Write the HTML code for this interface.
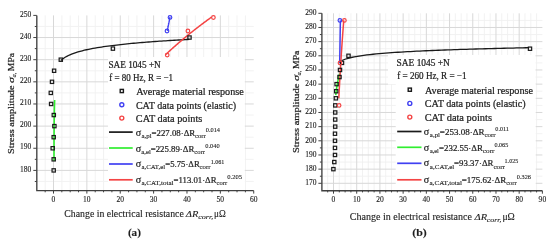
<!DOCTYPE html>
<html><head><meta charset="utf-8"><style>
html,body{margin:0;padding:0;background:#fff;width:550px;height:241px;overflow:hidden}
svg{display:block}
</style></head><body>
<svg width="550" height="241" viewBox="0 0 550 241" font-family="'Liberation Serif', serif" fill="#1e1e1e">
<style>text{stroke:#1e1e1e;stroke-width:0.22px}text.s{stroke-width:0.1px}text.t{stroke-width:0.12px}</style>
<rect width="550" height="241" fill="#fff"/>
<line x1="45.16" y1="15.4" x2="45.16" y2="190.6" stroke="#f0f0f0" stroke-width="0.9"/>
<line x1="61.84" y1="15.4" x2="61.84" y2="190.6" stroke="#f0f0f0" stroke-width="0.9"/>
<line x1="70.19" y1="15.4" x2="70.19" y2="190.6" stroke="#f0f0f0" stroke-width="0.9"/>
<line x1="78.53" y1="15.4" x2="78.53" y2="190.6" stroke="#f0f0f0" stroke-width="0.9"/>
<line x1="95.21" y1="15.4" x2="95.21" y2="190.6" stroke="#f0f0f0" stroke-width="0.9"/>
<line x1="103.56" y1="15.4" x2="103.56" y2="190.6" stroke="#f0f0f0" stroke-width="0.9"/>
<line x1="111.9" y1="15.4" x2="111.9" y2="190.6" stroke="#f0f0f0" stroke-width="0.9"/>
<line x1="128.58" y1="15.4" x2="128.58" y2="190.6" stroke="#f0f0f0" stroke-width="0.9"/>
<line x1="136.93" y1="15.4" x2="136.93" y2="190.6" stroke="#f0f0f0" stroke-width="0.9"/>
<line x1="145.27" y1="15.4" x2="145.27" y2="190.6" stroke="#f0f0f0" stroke-width="0.9"/>
<line x1="161.95" y1="15.4" x2="161.95" y2="190.6" stroke="#f0f0f0" stroke-width="0.9"/>
<line x1="170.3" y1="15.4" x2="170.3" y2="190.6" stroke="#f0f0f0" stroke-width="0.9"/>
<line x1="178.64" y1="15.4" x2="178.64" y2="190.6" stroke="#f0f0f0" stroke-width="0.9"/>
<line x1="195.32" y1="15.4" x2="195.32" y2="190.6" stroke="#f0f0f0" stroke-width="0.9"/>
<line x1="203.67" y1="15.4" x2="203.67" y2="190.6" stroke="#f0f0f0" stroke-width="0.9"/>
<line x1="212.01" y1="15.4" x2="212.01" y2="190.6" stroke="#f0f0f0" stroke-width="0.9"/>
<line x1="228.69" y1="15.4" x2="228.69" y2="190.6" stroke="#f0f0f0" stroke-width="0.9"/>
<line x1="237.03" y1="15.4" x2="237.03" y2="190.6" stroke="#f0f0f0" stroke-width="0.9"/>
<line x1="245.38" y1="15.4" x2="245.38" y2="190.6" stroke="#f0f0f0" stroke-width="0.9"/>
<line x1="36.81" y1="26.47" x2="253.72" y2="26.47" stroke="#f0f0f0" stroke-width="0.9"/>
<line x1="36.81" y1="48.61" x2="253.72" y2="48.61" stroke="#f0f0f0" stroke-width="0.9"/>
<line x1="36.81" y1="70.76" x2="253.72" y2="70.76" stroke="#f0f0f0" stroke-width="0.9"/>
<line x1="36.81" y1="92.9" x2="253.72" y2="92.9" stroke="#f0f0f0" stroke-width="0.9"/>
<line x1="36.81" y1="115.04" x2="253.72" y2="115.04" stroke="#f0f0f0" stroke-width="0.9"/>
<line x1="36.81" y1="137.19" x2="253.72" y2="137.19" stroke="#f0f0f0" stroke-width="0.9"/>
<line x1="36.81" y1="159.33" x2="253.72" y2="159.33" stroke="#f0f0f0" stroke-width="0.9"/>
<line x1="36.81" y1="181.47" x2="253.72" y2="181.47" stroke="#f0f0f0" stroke-width="0.9"/>
<line x1="53.5" y1="15.4" x2="53.5" y2="190.6" stroke="#d8d8d8" stroke-width="1"/>
<line x1="86.87" y1="15.4" x2="86.87" y2="190.6" stroke="#d8d8d8" stroke-width="1"/>
<line x1="120.24" y1="15.4" x2="120.24" y2="190.6" stroke="#d8d8d8" stroke-width="1"/>
<line x1="153.61" y1="15.4" x2="153.61" y2="190.6" stroke="#d8d8d8" stroke-width="1"/>
<line x1="186.98" y1="15.4" x2="186.98" y2="190.6" stroke="#d8d8d8" stroke-width="1"/>
<line x1="220.35" y1="15.4" x2="220.35" y2="190.6" stroke="#d8d8d8" stroke-width="1"/>
<line x1="36.81" y1="37.54" x2="253.72" y2="37.54" stroke="#d8d8d8" stroke-width="1"/>
<line x1="36.81" y1="59.69" x2="253.72" y2="59.69" stroke="#d8d8d8" stroke-width="1"/>
<line x1="36.81" y1="81.83" x2="253.72" y2="81.83" stroke="#d8d8d8" stroke-width="1"/>
<line x1="36.81" y1="103.97" x2="253.72" y2="103.97" stroke="#d8d8d8" stroke-width="1"/>
<line x1="36.81" y1="126.12" x2="253.72" y2="126.12" stroke="#d8d8d8" stroke-width="1"/>
<line x1="36.81" y1="148.26" x2="253.72" y2="148.26" stroke="#d8d8d8" stroke-width="1"/>
<line x1="36.81" y1="170.4" x2="253.72" y2="170.4" stroke="#d8d8d8" stroke-width="1"/>
<line x1="327.7" y1="13.3" x2="327.7" y2="190.7" stroke="#f0f0f0" stroke-width="0.9"/>
<line x1="339.3" y1="13.3" x2="339.3" y2="190.7" stroke="#f0f0f0" stroke-width="0.9"/>
<line x1="345.11" y1="13.3" x2="345.11" y2="190.7" stroke="#f0f0f0" stroke-width="0.9"/>
<line x1="350.91" y1="13.3" x2="350.91" y2="190.7" stroke="#f0f0f0" stroke-width="0.9"/>
<line x1="362.51" y1="13.3" x2="362.51" y2="190.7" stroke="#f0f0f0" stroke-width="0.9"/>
<line x1="368.31" y1="13.3" x2="368.31" y2="190.7" stroke="#f0f0f0" stroke-width="0.9"/>
<line x1="374.12" y1="13.3" x2="374.12" y2="190.7" stroke="#f0f0f0" stroke-width="0.9"/>
<line x1="385.72" y1="13.3" x2="385.72" y2="190.7" stroke="#f0f0f0" stroke-width="0.9"/>
<line x1="391.52" y1="13.3" x2="391.52" y2="190.7" stroke="#f0f0f0" stroke-width="0.9"/>
<line x1="397.33" y1="13.3" x2="397.33" y2="190.7" stroke="#f0f0f0" stroke-width="0.9"/>
<line x1="408.93" y1="13.3" x2="408.93" y2="190.7" stroke="#f0f0f0" stroke-width="0.9"/>
<line x1="414.74" y1="13.3" x2="414.74" y2="190.7" stroke="#f0f0f0" stroke-width="0.9"/>
<line x1="420.54" y1="13.3" x2="420.54" y2="190.7" stroke="#f0f0f0" stroke-width="0.9"/>
<line x1="432.14" y1="13.3" x2="432.14" y2="190.7" stroke="#f0f0f0" stroke-width="0.9"/>
<line x1="437.94" y1="13.3" x2="437.94" y2="190.7" stroke="#f0f0f0" stroke-width="0.9"/>
<line x1="443.75" y1="13.3" x2="443.75" y2="190.7" stroke="#f0f0f0" stroke-width="0.9"/>
<line x1="455.35" y1="13.3" x2="455.35" y2="190.7" stroke="#f0f0f0" stroke-width="0.9"/>
<line x1="461.16" y1="13.3" x2="461.16" y2="190.7" stroke="#f0f0f0" stroke-width="0.9"/>
<line x1="466.96" y1="13.3" x2="466.96" y2="190.7" stroke="#f0f0f0" stroke-width="0.9"/>
<line x1="478.56" y1="13.3" x2="478.56" y2="190.7" stroke="#f0f0f0" stroke-width="0.9"/>
<line x1="484.37" y1="13.3" x2="484.37" y2="190.7" stroke="#f0f0f0" stroke-width="0.9"/>
<line x1="490.17" y1="13.3" x2="490.17" y2="190.7" stroke="#f0f0f0" stroke-width="0.9"/>
<line x1="501.77" y1="13.3" x2="501.77" y2="190.7" stroke="#f0f0f0" stroke-width="0.9"/>
<line x1="507.58" y1="13.3" x2="507.58" y2="190.7" stroke="#f0f0f0" stroke-width="0.9"/>
<line x1="513.38" y1="13.3" x2="513.38" y2="190.7" stroke="#f0f0f0" stroke-width="0.9"/>
<line x1="524.98" y1="13.3" x2="524.98" y2="190.7" stroke="#f0f0f0" stroke-width="0.9"/>
<line x1="530.79" y1="13.3" x2="530.79" y2="190.7" stroke="#f0f0f0" stroke-width="0.9"/>
<line x1="536.59" y1="13.3" x2="536.59" y2="190.7" stroke="#f0f0f0" stroke-width="0.9"/>
<line x1="321.89" y1="20.38" x2="542.39" y2="20.38" stroke="#f0f0f0" stroke-width="0.9"/>
<line x1="321.89" y1="34.55" x2="542.39" y2="34.55" stroke="#f0f0f0" stroke-width="0.9"/>
<line x1="321.89" y1="48.72" x2="542.39" y2="48.72" stroke="#f0f0f0" stroke-width="0.9"/>
<line x1="321.89" y1="62.88" x2="542.39" y2="62.88" stroke="#f0f0f0" stroke-width="0.9"/>
<line x1="321.89" y1="77.05" x2="542.39" y2="77.05" stroke="#f0f0f0" stroke-width="0.9"/>
<line x1="321.89" y1="91.22" x2="542.39" y2="91.22" stroke="#f0f0f0" stroke-width="0.9"/>
<line x1="321.89" y1="105.39" x2="542.39" y2="105.39" stroke="#f0f0f0" stroke-width="0.9"/>
<line x1="321.89" y1="119.55" x2="542.39" y2="119.55" stroke="#f0f0f0" stroke-width="0.9"/>
<line x1="321.89" y1="133.72" x2="542.39" y2="133.72" stroke="#f0f0f0" stroke-width="0.9"/>
<line x1="321.89" y1="147.89" x2="542.39" y2="147.89" stroke="#f0f0f0" stroke-width="0.9"/>
<line x1="321.89" y1="162.05" x2="542.39" y2="162.05" stroke="#f0f0f0" stroke-width="0.9"/>
<line x1="321.89" y1="176.22" x2="542.39" y2="176.22" stroke="#f0f0f0" stroke-width="0.9"/>
<line x1="333.5" y1="13.3" x2="333.5" y2="190.7" stroke="#d8d8d8" stroke-width="1"/>
<line x1="356.71" y1="13.3" x2="356.71" y2="190.7" stroke="#d8d8d8" stroke-width="1"/>
<line x1="379.92" y1="13.3" x2="379.92" y2="190.7" stroke="#d8d8d8" stroke-width="1"/>
<line x1="403.13" y1="13.3" x2="403.13" y2="190.7" stroke="#d8d8d8" stroke-width="1"/>
<line x1="426.34" y1="13.3" x2="426.34" y2="190.7" stroke="#d8d8d8" stroke-width="1"/>
<line x1="449.55" y1="13.3" x2="449.55" y2="190.7" stroke="#d8d8d8" stroke-width="1"/>
<line x1="472.76" y1="13.3" x2="472.76" y2="190.7" stroke="#d8d8d8" stroke-width="1"/>
<line x1="495.97" y1="13.3" x2="495.97" y2="190.7" stroke="#d8d8d8" stroke-width="1"/>
<line x1="519.18" y1="13.3" x2="519.18" y2="190.7" stroke="#d8d8d8" stroke-width="1"/>
<line x1="321.89" y1="27.47" x2="542.39" y2="27.47" stroke="#d8d8d8" stroke-width="1"/>
<line x1="321.89" y1="41.63" x2="542.39" y2="41.63" stroke="#d8d8d8" stroke-width="1"/>
<line x1="321.89" y1="55.8" x2="542.39" y2="55.8" stroke="#d8d8d8" stroke-width="1"/>
<line x1="321.89" y1="69.97" x2="542.39" y2="69.97" stroke="#d8d8d8" stroke-width="1"/>
<line x1="321.89" y1="84.14" x2="542.39" y2="84.14" stroke="#d8d8d8" stroke-width="1"/>
<line x1="321.89" y1="98.3" x2="542.39" y2="98.3" stroke="#d8d8d8" stroke-width="1"/>
<line x1="321.89" y1="112.47" x2="542.39" y2="112.47" stroke="#d8d8d8" stroke-width="1"/>
<line x1="321.89" y1="126.64" x2="542.39" y2="126.64" stroke="#d8d8d8" stroke-width="1"/>
<line x1="321.89" y1="140.8" x2="542.39" y2="140.8" stroke="#d8d8d8" stroke-width="1"/>
<line x1="321.89" y1="154.97" x2="542.39" y2="154.97" stroke="#d8d8d8" stroke-width="1"/>
<line x1="321.89" y1="169.14" x2="542.39" y2="169.14" stroke="#d8d8d8" stroke-width="1"/>
<line x1="321.89" y1="183.3" x2="542.39" y2="183.3" stroke="#d8d8d8" stroke-width="1"/>
<rect x="108" y="57" width="136.8" height="133" fill="#fff"/>
<rect x="388" y="55" width="147.5" height="29.5" fill="#fff"/>
<rect x="395.7" y="84" width="140" height="106.5" fill="#fff"/>
<polyline points="60.84,60.57 62.98,58.75 65.12,57.29 67.27,56.08 69.41,55.04 71.55,54.13 73.69,53.32 75.83,52.59 77.97,51.93 80.11,51.32 82.25,50.76 84.4,50.24 86.54,49.75 88.68,49.29 90.82,48.86 92.96,48.46 95.1,48.07 97.24,47.71 99.38,47.36 101.52,47.03 103.67,46.71 105.81,46.4 107.95,46.11 110.09,45.82 112.23,45.55 114.37,45.29 116.51,45.04 118.65,44.79 120.8,44.55 122.94,44.32 125.08,44.1 127.22,43.88 129.36,43.67 131.5,43.47 133.64,43.27 135.78,43.08 137.93,42.89 140.07,42.7 142.21,42.52 144.35,42.35 146.49,42.17 148.63,42.01 150.77,41.84 152.91,41.68 155.06,41.52 157.2,41.37 159.34,41.22 161.48,41.07 163.62,40.93 165.76,40.78 167.9,40.64 170.04,40.51 172.19,40.37 174.33,40.24 176.47,40.11 178.61,39.98 180.75,39.86 182.89,39.73 185.03,39.61 187.17,39.49 189.32,39.37" fill="none" stroke="#1a1a1a" stroke-width="1.3"/>
<polyline points="54.02,161.1 54.03,154.1 54.04,149.14 54.05,145.27 54.06,142.11 54.07,139.42 54.08,137.08 54.1,135.02 54.11,133.16 54.12,131.48 54.13,129.94 54.14,128.52 54.15,127.2 54.16,125.97 54.17,124.81 54.18,123.73 54.19,122.7 54.2,121.73 54.21,120.81 54.23,119.93 54.24,119.09 54.25,118.28 54.26,117.51 54.27,116.77 54.28,116.05 54.29,115.37 54.3,114.7 54.31,114.06 54.32,113.44 54.33,112.84 54.34,112.26 54.35,111.7 54.37,111.15 54.38,110.62 54.39,110.1 54.4,109.59 54.41,109.1 54.42,108.62 54.43,108.15 54.44,107.7 54.45,107.25 54.46,106.82 54.47,106.39 54.48,105.97 54.49,105.56 54.51,105.16 54.52,104.77 54.53,104.39 54.54,104.01 54.55,103.64 54.56,103.28 54.57,102.93 54.58,102.58 54.59,102.23 54.6,101.9 54.61,101.56 54.62,101.24 54.63,100.92 54.65,100.6 54.66,100.29 54.67,99.99" fill="none" stroke="#30ee30" stroke-width="1.6"/>
<polyline points="167.21,30.9 167.26,30.67 167.31,30.44 167.35,30.21 167.4,29.99 167.44,29.76 167.49,29.53 167.53,29.3 167.58,29.07 167.62,28.84 167.67,28.61 167.72,28.38 167.76,28.16 167.81,27.93 167.85,27.7 167.9,27.47 167.94,27.24 167.99,27.01 168.03,26.78 168.08,26.55 168.13,26.33 168.17,26.1 168.22,25.87 168.26,25.64 168.31,25.41 168.35,25.18 168.4,24.95 168.44,24.72 168.49,24.5 168.53,24.27 168.58,24.04 168.63,23.81 168.67,23.58 168.72,23.35 168.76,23.12 168.81,22.89 168.85,22.67 168.9,22.44 168.94,22.21 168.99,21.98 169.04,21.75 169.08,21.52 169.13,21.29 169.17,21.06 169.22,20.83 169.26,20.61 169.31,20.38 169.35,20.15 169.4,19.92 169.45,19.69 169.49,19.46 169.54,19.23 169.58,19 169.63,18.77 169.67,18.55 169.72,18.32 169.76,18.09 169.81,17.86 169.86,17.63 169.9,17.4 169.95,17.17" fill="none" stroke="#4040f2" stroke-width="1.5"/>
<polyline points="165.9,54.37 166.66,53.66 167.42,52.95 168.18,52.25 168.94,51.55 169.7,50.85 170.46,50.16 171.22,49.47 171.98,48.79 172.74,48.1 173.5,47.42 174.26,46.75 175.02,46.08 175.78,45.41 176.54,44.74 177.3,44.08 178.06,43.42 178.82,42.77 179.58,42.11 180.34,41.46 181.1,40.82 181.86,40.18 182.62,39.54 183.38,38.9 184.14,38.26 184.9,37.63 185.66,37 186.42,36.38 187.18,35.76 187.94,35.14 188.7,34.52 189.46,33.9 190.21,33.29 190.97,32.68 191.73,32.08 192.49,31.47 193.25,30.87 194.01,30.27 194.77,29.68 195.53,29.08 196.29,28.49 197.05,27.91 197.81,27.32 198.57,26.74 199.33,26.16 200.09,25.58 200.85,25 201.61,24.43 202.37,23.86 203.13,23.29 203.89,22.72 204.65,22.15 205.41,21.59 206.17,21.03 206.93,20.47 207.69,19.92 208.45,19.36 209.21,18.81 209.97,18.26 210.73,17.72 211.49,17.17" fill="none" stroke="#f44444" stroke-width="1.5"/>
<rect x="52.05" y="168.75" width="3.3" height="3.3" fill="none" stroke="#1a1a1a" stroke-width="1.2"/>
<rect x="52.05" y="157.68" width="3.3" height="3.3" fill="none" stroke="#1a1a1a" stroke-width="1.2"/>
<rect x="51.05" y="146.61" width="3.3" height="3.3" fill="none" stroke="#1a1a1a" stroke-width="1.2"/>
<rect x="52.05" y="135.54" width="3.3" height="3.3" fill="none" stroke="#1a1a1a" stroke-width="1.2"/>
<rect x="52.75" y="124.47" width="3.3" height="3.3" fill="none" stroke="#1a1a1a" stroke-width="1.2"/>
<rect x="52.15" y="113.39" width="3.3" height="3.3" fill="none" stroke="#1a1a1a" stroke-width="1.2"/>
<rect x="49.45" y="102.32" width="3.3" height="3.3" fill="none" stroke="#1a1a1a" stroke-width="1.2"/>
<rect x="49.15" y="91.25" width="3.3" height="3.3" fill="none" stroke="#1a1a1a" stroke-width="1.2"/>
<rect x="50.35" y="80.18" width="3.3" height="3.3" fill="none" stroke="#1a1a1a" stroke-width="1.2"/>
<rect x="52.45" y="69.11" width="3.3" height="3.3" fill="none" stroke="#1a1a1a" stroke-width="1.2"/>
<rect x="59.15" y="58.04" width="3.3" height="3.3" fill="none" stroke="#1a1a1a" stroke-width="1.2"/>
<rect x="111.25" y="46.96" width="3.3" height="3.3" fill="none" stroke="#1a1a1a" stroke-width="1.2"/>
<rect x="187.85" y="35.89" width="3.3" height="3.3" fill="none" stroke="#1a1a1a" stroke-width="1.2"/>
<circle cx="167" cy="31" r="1.8" fill="none" stroke="#4040f2" stroke-width="1.2"/>
<circle cx="170" cy="17.4" r="1.8" fill="none" stroke="#4040f2" stroke-width="1.2"/>
<circle cx="167.2" cy="55.1" r="1.8" fill="none" stroke="#f44444" stroke-width="1.2"/>
<circle cx="187.9" cy="31" r="1.8" fill="none" stroke="#f44444" stroke-width="1.2"/>
<circle cx="213.4" cy="17.5" r="1.8" fill="none" stroke="#f44444" stroke-width="1.2"/>
<polyline points="341.86,60.52 344.97,59.25 348.09,58.28 351.21,57.5 354.33,56.85 357.44,56.28 360.56,55.79 363.68,55.34 366.8,54.94 369.92,54.58 373.03,54.25 376.15,53.94 379.27,53.65 382.39,53.38 385.51,53.13 388.62,52.89 391.74,52.67 394.86,52.45 397.98,52.25 401.1,52.06 404.21,51.87 407.33,51.7 410.45,51.53 413.57,51.36 416.68,51.21 419.8,51.06 422.92,50.91 426.04,50.77 429.16,50.63 432.27,50.5 435.39,50.37 438.51,50.25 441.63,50.13 444.75,50.01 447.86,49.9 450.98,49.79 454.1,49.68 457.22,49.58 460.33,49.47 463.45,49.37 466.57,49.28 469.69,49.18 472.81,49.09 475.92,48.99 479.04,48.91 482.16,48.82 485.28,48.73 488.4,48.65 491.51,48.57 494.63,48.49 497.75,48.41 500.87,48.33 503.99,48.25 507.1,48.18 510.22,48.1 513.34,48.03 516.46,47.96 519.57,47.89 522.69,47.82 525.81,47.75 528.93,47.69" fill="none" stroke="#1a1a1a" stroke-width="1.3"/>
<polyline points="335.78,95.04 335.85,94.46 335.91,93.9 335.97,93.34 336.03,92.8 336.1,92.27 336.16,91.76 336.22,91.25 336.29,90.76 336.35,90.28 336.41,89.8 336.47,89.34 336.54,88.88 336.6,88.44 336.66,88 336.73,87.57 336.79,87.14 336.85,86.73 336.91,86.32 336.98,85.92 337.04,85.53 337.1,85.14 337.17,84.76 337.23,84.38 337.29,84.01 337.35,83.65 337.42,83.29 337.48,82.94 337.54,82.59 337.61,82.25 337.67,81.91 337.73,81.58 337.79,81.25 337.86,80.93 337.92,80.61 337.98,80.29 338.04,79.98 338.11,79.67 338.17,79.37 338.23,79.07 338.3,78.77 338.36,78.48 338.42,78.19 338.48,77.91 338.55,77.62 338.61,77.35 338.67,77.07 338.74,76.8 338.8,76.53 338.86,76.26 338.92,76 338.99,75.74 339.05,75.48 339.11,75.22 339.18,74.97 339.24,74.72 339.3,74.47 339.36,74.23 339.43,73.99 339.49,73.75 339.55,73.51" fill="none" stroke="#30ee30" stroke-width="1.6"/>
<polyline points="339.69,62.88 339.7,62.18 339.71,61.47 339.72,60.76 339.73,60.05 339.74,59.35 339.76,58.64 339.77,57.93 339.78,57.22 339.79,56.52 339.8,55.81 339.82,55.1 339.83,54.39 339.84,53.69 339.85,52.98 339.86,52.27 339.87,51.56 339.89,50.85 339.9,50.15 339.91,49.44 339.92,48.73 339.93,48.02 339.95,47.31 339.96,46.61 339.97,45.9 339.98,45.19 339.99,44.48 340,43.77 340.02,43.07 340.03,42.36 340.04,41.65 340.05,40.94 340.06,40.23 340.08,39.52 340.09,38.81 340.1,38.11 340.11,37.4 340.12,36.69 340.13,35.98 340.15,35.27 340.16,34.56 340.17,33.85 340.18,33.15 340.19,32.44 340.21,31.73 340.22,31.02 340.23,30.31 340.24,29.6 340.25,28.89 340.26,28.18 340.28,27.47 340.29,26.77 340.3,26.06 340.31,25.35 340.32,24.64 340.34,23.93 340.35,23.22 340.36,22.51 340.37,21.8 340.38,21.09 340.39,20.38" fill="none" stroke="#4040f2" stroke-width="1.5"/>
<polyline points="338.81,98.3 338.89,96.66 338.97,95.04 339.06,93.44 339.14,91.85 339.22,90.27 339.3,88.71 339.39,87.17 339.47,85.64 339.55,84.13 339.63,82.62 339.71,81.14 339.8,79.66 339.88,78.2 339.96,76.75 340.04,75.31 340.13,73.89 340.21,72.48 340.29,71.08 340.37,69.69 340.46,68.31 340.54,66.94 340.62,65.58 340.7,64.24 340.79,62.9 340.87,61.58 340.95,60.26 341.03,58.95 341.11,57.66 341.2,56.37 341.28,55.09 341.36,53.82 341.44,52.56 341.53,51.31 341.61,50.07 341.69,48.84 341.77,47.61 341.86,46.39 341.94,45.18 342.02,43.98 342.1,42.79 342.18,41.6 342.27,40.43 342.35,39.25 342.43,38.09 342.51,36.93 342.6,35.78 342.68,34.64 342.76,33.51 342.84,32.38 342.93,31.26 343.01,30.14 343.09,29.03 343.17,27.93 343.25,26.83 343.34,25.74 343.42,24.66 343.5,23.58 343.58,22.51 343.67,21.44 343.75,20.38" fill="none" stroke="#f44444" stroke-width="1.5"/>
<rect x="331.75" y="167.49" width="3.3" height="3.3" fill="none" stroke="#1a1a1a" stroke-width="1.2"/>
<rect x="332.65" y="160.4" width="3.3" height="3.3" fill="none" stroke="#1a1a1a" stroke-width="1.2"/>
<rect x="333.35" y="153.32" width="3.3" height="3.3" fill="none" stroke="#1a1a1a" stroke-width="1.2"/>
<rect x="333.35" y="146.24" width="3.3" height="3.3" fill="none" stroke="#1a1a1a" stroke-width="1.2"/>
<rect x="333.35" y="139.15" width="3.3" height="3.3" fill="none" stroke="#1a1a1a" stroke-width="1.2"/>
<rect x="333.35" y="132.07" width="3.3" height="3.3" fill="none" stroke="#1a1a1a" stroke-width="1.2"/>
<rect x="333.55" y="124.99" width="3.3" height="3.3" fill="none" stroke="#1a1a1a" stroke-width="1.2"/>
<rect x="333.55" y="117.9" width="3.3" height="3.3" fill="none" stroke="#1a1a1a" stroke-width="1.2"/>
<rect x="333.55" y="110.82" width="3.3" height="3.3" fill="none" stroke="#1a1a1a" stroke-width="1.2"/>
<rect x="333.65" y="103.74" width="3.3" height="3.3" fill="none" stroke="#1a1a1a" stroke-width="1.2"/>
<rect x="334.25" y="96.65" width="3.3" height="3.3" fill="none" stroke="#1a1a1a" stroke-width="1.2"/>
<rect x="334.55" y="89.57" width="3.3" height="3.3" fill="none" stroke="#1a1a1a" stroke-width="1.2"/>
<rect x="334.95" y="82.48" width="3.3" height="3.3" fill="none" stroke="#1a1a1a" stroke-width="1.2"/>
<rect x="337.85" y="75.4" width="3.3" height="3.3" fill="none" stroke="#1a1a1a" stroke-width="1.2"/>
<rect x="338.35" y="68.32" width="3.3" height="3.3" fill="none" stroke="#1a1a1a" stroke-width="1.2"/>
<rect x="340.35" y="61.23" width="3.3" height="3.3" fill="none" stroke="#1a1a1a" stroke-width="1.2"/>
<rect x="346.85" y="54.15" width="3.3" height="3.3" fill="none" stroke="#1a1a1a" stroke-width="1.2"/>
<rect x="528.35" y="47.07" width="3.3" height="3.3" fill="none" stroke="#1a1a1a" stroke-width="1.2"/>
<circle cx="339.9" cy="20.38" r="1.8" fill="none" stroke="#4040f2" stroke-width="1.2"/>
<circle cx="339.1" cy="105.39" r="1.8" fill="none" stroke="#f44444" stroke-width="1.2"/>
<circle cx="340" cy="62.88" r="1.8" fill="none" stroke="#f44444" stroke-width="1.2"/>
<circle cx="344.4" cy="20.38" r="1.8" fill="none" stroke="#f44444" stroke-width="1.2"/>
<path d="M36.81 15.4V190.6H253.72" fill="none" stroke="#404040" stroke-width="1.35"/>
<line x1="33.31" y1="15.4" x2="36.81" y2="15.4" stroke="#404040" stroke-width="1"/>
<line x1="34.81" y1="26.47" x2="36.81" y2="26.47" stroke="#404040" stroke-width="1"/>
<line x1="33.31" y1="37.54" x2="36.81" y2="37.54" stroke="#404040" stroke-width="1"/>
<line x1="34.81" y1="48.61" x2="36.81" y2="48.61" stroke="#404040" stroke-width="1"/>
<line x1="33.31" y1="59.69" x2="36.81" y2="59.69" stroke="#404040" stroke-width="1"/>
<line x1="34.81" y1="70.76" x2="36.81" y2="70.76" stroke="#404040" stroke-width="1"/>
<line x1="33.31" y1="81.83" x2="36.81" y2="81.83" stroke="#404040" stroke-width="1"/>
<line x1="34.81" y1="92.9" x2="36.81" y2="92.9" stroke="#404040" stroke-width="1"/>
<line x1="33.31" y1="103.97" x2="36.81" y2="103.97" stroke="#404040" stroke-width="1"/>
<line x1="34.81" y1="115.04" x2="36.81" y2="115.04" stroke="#404040" stroke-width="1"/>
<line x1="33.31" y1="126.12" x2="36.81" y2="126.12" stroke="#404040" stroke-width="1"/>
<line x1="34.81" y1="137.19" x2="36.81" y2="137.19" stroke="#404040" stroke-width="1"/>
<line x1="33.31" y1="148.26" x2="36.81" y2="148.26" stroke="#404040" stroke-width="1"/>
<line x1="34.81" y1="159.33" x2="36.81" y2="159.33" stroke="#404040" stroke-width="1"/>
<line x1="33.31" y1="170.4" x2="36.81" y2="170.4" stroke="#404040" stroke-width="1"/>
<line x1="34.81" y1="181.47" x2="36.81" y2="181.47" stroke="#404040" stroke-width="1"/>
<line x1="45.16" y1="190.6" x2="45.16" y2="192.3" stroke="#404040" stroke-width="1"/>
<line x1="53.5" y1="190.6" x2="53.5" y2="193.6" stroke="#404040" stroke-width="1"/>
<line x1="61.84" y1="190.6" x2="61.84" y2="192.3" stroke="#404040" stroke-width="1"/>
<line x1="70.19" y1="190.6" x2="70.19" y2="192.3" stroke="#404040" stroke-width="1"/>
<line x1="78.53" y1="190.6" x2="78.53" y2="192.3" stroke="#404040" stroke-width="1"/>
<line x1="86.87" y1="190.6" x2="86.87" y2="193.6" stroke="#404040" stroke-width="1"/>
<line x1="95.21" y1="190.6" x2="95.21" y2="192.3" stroke="#404040" stroke-width="1"/>
<line x1="103.56" y1="190.6" x2="103.56" y2="192.3" stroke="#404040" stroke-width="1"/>
<line x1="111.9" y1="190.6" x2="111.9" y2="192.3" stroke="#404040" stroke-width="1"/>
<line x1="120.24" y1="190.6" x2="120.24" y2="193.6" stroke="#404040" stroke-width="1"/>
<line x1="128.58" y1="190.6" x2="128.58" y2="192.3" stroke="#404040" stroke-width="1"/>
<line x1="136.93" y1="190.6" x2="136.93" y2="192.3" stroke="#404040" stroke-width="1"/>
<line x1="145.27" y1="190.6" x2="145.27" y2="192.3" stroke="#404040" stroke-width="1"/>
<line x1="153.61" y1="190.6" x2="153.61" y2="193.6" stroke="#404040" stroke-width="1"/>
<line x1="161.95" y1="190.6" x2="161.95" y2="192.3" stroke="#404040" stroke-width="1"/>
<line x1="170.3" y1="190.6" x2="170.3" y2="192.3" stroke="#404040" stroke-width="1"/>
<line x1="178.64" y1="190.6" x2="178.64" y2="192.3" stroke="#404040" stroke-width="1"/>
<line x1="186.98" y1="190.6" x2="186.98" y2="193.6" stroke="#404040" stroke-width="1"/>
<line x1="195.32" y1="190.6" x2="195.32" y2="192.3" stroke="#404040" stroke-width="1"/>
<line x1="203.67" y1="190.6" x2="203.67" y2="192.3" stroke="#404040" stroke-width="1"/>
<line x1="212.01" y1="190.6" x2="212.01" y2="192.3" stroke="#404040" stroke-width="1"/>
<line x1="220.35" y1="190.6" x2="220.35" y2="193.6" stroke="#404040" stroke-width="1"/>
<line x1="228.69" y1="190.6" x2="228.69" y2="192.3" stroke="#404040" stroke-width="1"/>
<line x1="237.03" y1="190.6" x2="237.03" y2="192.3" stroke="#404040" stroke-width="1"/>
<line x1="245.38" y1="190.6" x2="245.38" y2="192.3" stroke="#404040" stroke-width="1"/>
<line x1="253.72" y1="190.6" x2="253.72" y2="193.6" stroke="#404040" stroke-width="1"/>
<path d="M321.89 13.3V190.7H542.39" fill="none" stroke="#404040" stroke-width="1.35"/>
<line x1="318.39" y1="13.3" x2="321.89" y2="13.3" stroke="#404040" stroke-width="1"/>
<line x1="319.89" y1="20.38" x2="321.89" y2="20.38" stroke="#404040" stroke-width="1"/>
<line x1="318.39" y1="27.47" x2="321.89" y2="27.47" stroke="#404040" stroke-width="1"/>
<line x1="319.89" y1="34.55" x2="321.89" y2="34.55" stroke="#404040" stroke-width="1"/>
<line x1="318.39" y1="41.63" x2="321.89" y2="41.63" stroke="#404040" stroke-width="1"/>
<line x1="319.89" y1="48.72" x2="321.89" y2="48.72" stroke="#404040" stroke-width="1"/>
<line x1="318.39" y1="55.8" x2="321.89" y2="55.8" stroke="#404040" stroke-width="1"/>
<line x1="319.89" y1="62.88" x2="321.89" y2="62.88" stroke="#404040" stroke-width="1"/>
<line x1="318.39" y1="69.97" x2="321.89" y2="69.97" stroke="#404040" stroke-width="1"/>
<line x1="319.89" y1="77.05" x2="321.89" y2="77.05" stroke="#404040" stroke-width="1"/>
<line x1="318.39" y1="84.14" x2="321.89" y2="84.14" stroke="#404040" stroke-width="1"/>
<line x1="319.89" y1="91.22" x2="321.89" y2="91.22" stroke="#404040" stroke-width="1"/>
<line x1="318.39" y1="98.3" x2="321.89" y2="98.3" stroke="#404040" stroke-width="1"/>
<line x1="319.89" y1="105.39" x2="321.89" y2="105.39" stroke="#404040" stroke-width="1"/>
<line x1="318.39" y1="112.47" x2="321.89" y2="112.47" stroke="#404040" stroke-width="1"/>
<line x1="319.89" y1="119.55" x2="321.89" y2="119.55" stroke="#404040" stroke-width="1"/>
<line x1="318.39" y1="126.64" x2="321.89" y2="126.64" stroke="#404040" stroke-width="1"/>
<line x1="319.89" y1="133.72" x2="321.89" y2="133.72" stroke="#404040" stroke-width="1"/>
<line x1="318.39" y1="140.8" x2="321.89" y2="140.8" stroke="#404040" stroke-width="1"/>
<line x1="319.89" y1="147.89" x2="321.89" y2="147.89" stroke="#404040" stroke-width="1"/>
<line x1="318.39" y1="154.97" x2="321.89" y2="154.97" stroke="#404040" stroke-width="1"/>
<line x1="319.89" y1="162.05" x2="321.89" y2="162.05" stroke="#404040" stroke-width="1"/>
<line x1="318.39" y1="169.14" x2="321.89" y2="169.14" stroke="#404040" stroke-width="1"/>
<line x1="319.89" y1="176.22" x2="321.89" y2="176.22" stroke="#404040" stroke-width="1"/>
<line x1="318.39" y1="183.3" x2="321.89" y2="183.3" stroke="#404040" stroke-width="1"/>
<line x1="327.7" y1="190.7" x2="327.7" y2="192.4" stroke="#404040" stroke-width="1"/>
<line x1="333.5" y1="190.7" x2="333.5" y2="193.7" stroke="#404040" stroke-width="1"/>
<line x1="339.3" y1="190.7" x2="339.3" y2="192.4" stroke="#404040" stroke-width="1"/>
<line x1="345.11" y1="190.7" x2="345.11" y2="192.4" stroke="#404040" stroke-width="1"/>
<line x1="350.91" y1="190.7" x2="350.91" y2="192.4" stroke="#404040" stroke-width="1"/>
<line x1="356.71" y1="190.7" x2="356.71" y2="193.7" stroke="#404040" stroke-width="1"/>
<line x1="362.51" y1="190.7" x2="362.51" y2="192.4" stroke="#404040" stroke-width="1"/>
<line x1="368.31" y1="190.7" x2="368.31" y2="192.4" stroke="#404040" stroke-width="1"/>
<line x1="374.12" y1="190.7" x2="374.12" y2="192.4" stroke="#404040" stroke-width="1"/>
<line x1="379.92" y1="190.7" x2="379.92" y2="193.7" stroke="#404040" stroke-width="1"/>
<line x1="385.72" y1="190.7" x2="385.72" y2="192.4" stroke="#404040" stroke-width="1"/>
<line x1="391.52" y1="190.7" x2="391.52" y2="192.4" stroke="#404040" stroke-width="1"/>
<line x1="397.33" y1="190.7" x2="397.33" y2="192.4" stroke="#404040" stroke-width="1"/>
<line x1="403.13" y1="190.7" x2="403.13" y2="193.7" stroke="#404040" stroke-width="1"/>
<line x1="408.93" y1="190.7" x2="408.93" y2="192.4" stroke="#404040" stroke-width="1"/>
<line x1="414.74" y1="190.7" x2="414.74" y2="192.4" stroke="#404040" stroke-width="1"/>
<line x1="420.54" y1="190.7" x2="420.54" y2="192.4" stroke="#404040" stroke-width="1"/>
<line x1="426.34" y1="190.7" x2="426.34" y2="193.7" stroke="#404040" stroke-width="1"/>
<line x1="432.14" y1="190.7" x2="432.14" y2="192.4" stroke="#404040" stroke-width="1"/>
<line x1="437.94" y1="190.7" x2="437.94" y2="192.4" stroke="#404040" stroke-width="1"/>
<line x1="443.75" y1="190.7" x2="443.75" y2="192.4" stroke="#404040" stroke-width="1"/>
<line x1="449.55" y1="190.7" x2="449.55" y2="193.7" stroke="#404040" stroke-width="1"/>
<line x1="455.35" y1="190.7" x2="455.35" y2="192.4" stroke="#404040" stroke-width="1"/>
<line x1="461.16" y1="190.7" x2="461.16" y2="192.4" stroke="#404040" stroke-width="1"/>
<line x1="466.96" y1="190.7" x2="466.96" y2="192.4" stroke="#404040" stroke-width="1"/>
<line x1="472.76" y1="190.7" x2="472.76" y2="193.7" stroke="#404040" stroke-width="1"/>
<line x1="478.56" y1="190.7" x2="478.56" y2="192.4" stroke="#404040" stroke-width="1"/>
<line x1="484.37" y1="190.7" x2="484.37" y2="192.4" stroke="#404040" stroke-width="1"/>
<line x1="490.17" y1="190.7" x2="490.17" y2="192.4" stroke="#404040" stroke-width="1"/>
<line x1="495.97" y1="190.7" x2="495.97" y2="193.7" stroke="#404040" stroke-width="1"/>
<line x1="501.77" y1="190.7" x2="501.77" y2="192.4" stroke="#404040" stroke-width="1"/>
<line x1="507.58" y1="190.7" x2="507.58" y2="192.4" stroke="#404040" stroke-width="1"/>
<line x1="513.38" y1="190.7" x2="513.38" y2="192.4" stroke="#404040" stroke-width="1"/>
<line x1="519.18" y1="190.7" x2="519.18" y2="193.7" stroke="#404040" stroke-width="1"/>
<line x1="524.98" y1="190.7" x2="524.98" y2="192.4" stroke="#404040" stroke-width="1"/>
<line x1="530.79" y1="190.7" x2="530.79" y2="192.4" stroke="#404040" stroke-width="1"/>
<line x1="536.59" y1="190.7" x2="536.59" y2="192.4" stroke="#404040" stroke-width="1"/>
<line x1="542.39" y1="190.7" x2="542.39" y2="193.7" stroke="#404040" stroke-width="1"/>
<text x="31.4" y="16.6" text-anchor="end" class="t" font-size="7.3" textLength="11.28" lengthAdjust="spacingAndGlyphs">250</text>
<text x="31.4" y="38.74" text-anchor="end" class="t" font-size="7.3" textLength="11.28" lengthAdjust="spacingAndGlyphs">240</text>
<text x="31.4" y="60.89" text-anchor="end" class="t" font-size="7.3" textLength="11.28" lengthAdjust="spacingAndGlyphs">230</text>
<text x="31.4" y="83.03" text-anchor="end" class="t" font-size="7.3" textLength="11.28" lengthAdjust="spacingAndGlyphs">220</text>
<text x="31.4" y="105.17" text-anchor="end" class="t" font-size="7.3" textLength="11.28" lengthAdjust="spacingAndGlyphs">210</text>
<text x="31.4" y="127.32" text-anchor="end" class="t" font-size="7.3" textLength="11.28" lengthAdjust="spacingAndGlyphs">200</text>
<text x="31.4" y="149.46" text-anchor="end" class="t" font-size="7.3" textLength="11.28" lengthAdjust="spacingAndGlyphs">190</text>
<text x="31.4" y="171.6" text-anchor="end" class="t" font-size="7.3" textLength="11.28" lengthAdjust="spacingAndGlyphs">180</text>
<text x="53.5" y="202" text-anchor="middle" class="t" font-size="7.3" textLength="3.76" lengthAdjust="spacingAndGlyphs">0</text>
<text x="86.87" y="202" text-anchor="middle" class="t" font-size="7.3" textLength="7.52" lengthAdjust="spacingAndGlyphs">10</text>
<text x="120.24" y="202" text-anchor="middle" class="t" font-size="7.3" textLength="7.52" lengthAdjust="spacingAndGlyphs">20</text>
<text x="153.61" y="202" text-anchor="middle" class="t" font-size="7.3" textLength="7.52" lengthAdjust="spacingAndGlyphs">30</text>
<text x="186.98" y="202" text-anchor="middle" class="t" font-size="7.3" textLength="7.52" lengthAdjust="spacingAndGlyphs">40</text>
<text x="220.35" y="202" text-anchor="middle" class="t" font-size="7.3" textLength="7.52" lengthAdjust="spacingAndGlyphs">50</text>
<text x="253.72" y="202" text-anchor="middle" class="t" font-size="7.3" textLength="7.52" lengthAdjust="spacingAndGlyphs">60</text>
<text x="316.5" y="14.5" text-anchor="end" class="t" font-size="7.3" textLength="11.28" lengthAdjust="spacingAndGlyphs">290</text>
<text x="316.5" y="28.73" text-anchor="end" class="t" font-size="7.3" textLength="11.28" lengthAdjust="spacingAndGlyphs">280</text>
<text x="316.5" y="42.97" text-anchor="end" class="t" font-size="7.3" textLength="11.28" lengthAdjust="spacingAndGlyphs">270</text>
<text x="316.5" y="57.2" text-anchor="end" class="t" font-size="7.3" textLength="11.28" lengthAdjust="spacingAndGlyphs">260</text>
<text x="316.5" y="71.43" text-anchor="end" class="t" font-size="7.3" textLength="11.28" lengthAdjust="spacingAndGlyphs">250</text>
<text x="316.5" y="85.67" text-anchor="end" class="t" font-size="7.3" textLength="11.28" lengthAdjust="spacingAndGlyphs">240</text>
<text x="316.5" y="99.9" text-anchor="end" class="t" font-size="7.3" textLength="11.28" lengthAdjust="spacingAndGlyphs">230</text>
<text x="316.5" y="114.14" text-anchor="end" class="t" font-size="7.3" textLength="11.28" lengthAdjust="spacingAndGlyphs">220</text>
<text x="316.5" y="128.37" text-anchor="end" class="t" font-size="7.3" textLength="11.28" lengthAdjust="spacingAndGlyphs">210</text>
<text x="316.5" y="142.6" text-anchor="end" class="t" font-size="7.3" textLength="11.28" lengthAdjust="spacingAndGlyphs">200</text>
<text x="316.5" y="156.84" text-anchor="end" class="t" font-size="7.3" textLength="11.28" lengthAdjust="spacingAndGlyphs">190</text>
<text x="316.5" y="171.07" text-anchor="end" class="t" font-size="7.3" textLength="11.28" lengthAdjust="spacingAndGlyphs">180</text>
<text x="316.5" y="185.3" text-anchor="end" class="t" font-size="7.3" textLength="11.28" lengthAdjust="spacingAndGlyphs">170</text>
<text x="333.5" y="202" text-anchor="middle" class="t" font-size="7.3" textLength="3.76" lengthAdjust="spacingAndGlyphs">0</text>
<text x="356.71" y="202" text-anchor="middle" class="t" font-size="7.3" textLength="7.52" lengthAdjust="spacingAndGlyphs">10</text>
<text x="379.92" y="202" text-anchor="middle" class="t" font-size="7.3" textLength="7.52" lengthAdjust="spacingAndGlyphs">20</text>
<text x="403.13" y="202" text-anchor="middle" class="t" font-size="7.3" textLength="7.52" lengthAdjust="spacingAndGlyphs">30</text>
<text x="426.34" y="202" text-anchor="middle" class="t" font-size="7.3" textLength="7.52" lengthAdjust="spacingAndGlyphs">40</text>
<text x="449.55" y="202" text-anchor="middle" class="t" font-size="7.3" textLength="7.52" lengthAdjust="spacingAndGlyphs">50</text>
<text x="472.76" y="202" text-anchor="middle" class="t" font-size="7.3" textLength="7.52" lengthAdjust="spacingAndGlyphs">60</text>
<text x="495.97" y="202" text-anchor="middle" class="t" font-size="7.3" textLength="7.52" lengthAdjust="spacingAndGlyphs">70</text>
<text x="519.18" y="202" text-anchor="middle" class="t" font-size="7.3" textLength="7.52" lengthAdjust="spacingAndGlyphs">80</text>
<text x="542.39" y="202" text-anchor="middle" class="t" font-size="7.3" textLength="7.52" lengthAdjust="spacingAndGlyphs">90</text>
<text transform="translate(14.4,153.3) rotate(-90)" x="-0.67" y="0" font-size="9.2" textLength="68.57" lengthAdjust="spacingAndGlyphs">Stress amplitude</text>
<text transform="translate(14.4,82.56) rotate(-90)" x="-0.36" y="0" font-size="9.2" font-style="italic" textLength="5.93" lengthAdjust="spacingAndGlyphs">σ</text>
<text transform="translate(16.4,77.41) rotate(-90)" x="-0.2" y="0" font-size="6.4" font-style="italic" textLength="4.88" lengthAdjust="spacingAndGlyphs" class="s">a,</text>
<text transform="translate(14.4,70.86) rotate(-90)" x="-0.29" y="0" font-size="9.2" textLength="18.28" lengthAdjust="spacingAndGlyphs">MPa</text>
<text transform="translate(298.6,152.3) rotate(-90)" x="-0.68" y="0" font-size="9.2" textLength="69.46" lengthAdjust="spacingAndGlyphs">Stress amplitude</text>
<text transform="translate(298.6,80.65) rotate(-90)" x="-0.37" y="0" font-size="9.2" font-style="italic" textLength="6.01" lengthAdjust="spacingAndGlyphs">σ</text>
<text transform="translate(300.6,75.42) rotate(-90)" x="-0.2" y="0" font-size="6.4" font-style="italic" textLength="4.95" lengthAdjust="spacingAndGlyphs" class="s">a,</text>
<text transform="translate(298.6,68.79) rotate(-90)" x="-0.29" y="0" font-size="9.2" textLength="18.52" lengthAdjust="spacingAndGlyphs">MPa</text>
<text x="64.31" y="216.6" font-size="9.5" textLength="119.52" lengthAdjust="spacingAndGlyphs" class="t">Change in electrical resistance</text>
<text x="185.87" y="216.6" font-size="9.0" font-style="italic" textLength="12.52" lengthAdjust="spacingAndGlyphs" class="s">ΔR</text>
<text x="198.16" y="218.7" font-size="6.3" font-style="italic" textLength="15.19" lengthAdjust="spacingAndGlyphs" class="s">corr,</text>
<text x="213.97" y="216.6" font-size="9.5" textLength="11.73" lengthAdjust="spacingAndGlyphs" class="t">μΩ</text>
<text x="349.8" y="220.2" font-size="9.5" textLength="122.13" lengthAdjust="spacingAndGlyphs" class="t">Change in electrical resistance</text>
<text x="474.57" y="220.2" font-size="9.0" font-style="italic" textLength="12.52" lengthAdjust="spacingAndGlyphs" class="s">ΔR</text>
<text x="486.87" y="222.3" font-size="6.3" font-style="italic" textLength="14.55" lengthAdjust="spacingAndGlyphs" class="s">corr,</text>
<text x="502.42" y="220.2" font-size="9.5" textLength="12.4" lengthAdjust="spacingAndGlyphs" class="t">μΩ</text>
<text x="127.9" y="236" font-size="10" font-weight="bold" textLength="13.06" lengthAdjust="spacingAndGlyphs" class="s">(a)</text>
<text x="412.26" y="236" font-size="10" font-weight="bold" textLength="14.54" lengthAdjust="spacingAndGlyphs" class="s">(b)</text>
<text x="108.4" y="67.7" font-size="9.4" textLength="52.39" lengthAdjust="spacingAndGlyphs">SAE 1045 +N</text>
<text x="109.23" y="81.1" font-size="9.4" textLength="63.89" lengthAdjust="spacingAndGlyphs">f = 80 Hz, R = −1</text>
<text x="396.59" y="65.8" font-size="9.4" textLength="53.2" lengthAdjust="spacingAndGlyphs">SAE 1045 +N</text>
<text x="397.23" y="79.2" font-size="9.4" textLength="69.3" lengthAdjust="spacingAndGlyphs">f = 260 Hz, R = −1</text>
<rect x="120.2" y="89.4" width="3.2" height="3.2" fill="none" stroke="#1a1a1a" stroke-width="1.4"/>
<text x="136.2" y="95.1" font-size="9.8" textLength="107.53" lengthAdjust="spacingAndGlyphs">Average material response</text>
<circle cx="121.8" cy="104.8" r="2.0" fill="none" stroke="#4040f2" stroke-width="1.4"/>
<text x="135.9" y="108.7" font-size="9.8" textLength="100.12" lengthAdjust="spacingAndGlyphs">CAT data points (elastic)</text>
<circle cx="121.8" cy="118.1" r="2.0" fill="none" stroke="#f44444" stroke-width="1.4"/>
<text x="135.89" y="122" font-size="9.8" textLength="66.38" lengthAdjust="spacingAndGlyphs">CAT data points</text>
<rect x="408.2" y="88.1" width="3.2" height="3.2" fill="none" stroke="#1a1a1a" stroke-width="1.4"/>
<text x="425" y="93.8" font-size="9.8" textLength="108.03" lengthAdjust="spacingAndGlyphs">Average material response</text>
<circle cx="409.8" cy="103.4" r="2.0" fill="none" stroke="#4040f2" stroke-width="1.4"/>
<text x="424.69" y="107.3" font-size="9.8" textLength="100.93" lengthAdjust="spacingAndGlyphs">CAT data points (elastic)</text>
<circle cx="409.8" cy="117.1" r="2.0" fill="none" stroke="#f44444" stroke-width="1.4"/>
<text x="424.68" y="121" font-size="9.8" textLength="67.29" lengthAdjust="spacingAndGlyphs">CAT data points</text>
<line x1="109" y1="132.1" x2="132.7" y2="132.1" stroke="#1a1a1a" stroke-width="1.7"/>
<text x="135.7" y="135.7" font-size="9.8" textLength="5.45" lengthAdjust="spacingAndGlyphs">σ</text>
<text x="141.46" y="138" font-size="6.6" textLength="10.16" lengthAdjust="spacingAndGlyphs" class="t">a,pl</text>
<text x="151.56" y="135.7" font-size="8.9" textLength="43.66" lengthAdjust="spacingAndGlyphs">=227.08·ΔR</text>
<text x="194.93" y="138.2" font-size="6.6" textLength="10.84" lengthAdjust="spacingAndGlyphs" class="s">corr</text>
<text x="205.85" y="131.6" font-size="5.5" textLength="14.15" lengthAdjust="spacingAndGlyphs" class="s">0.014</text>
<line x1="109" y1="148.0" x2="132.7" y2="148.0" stroke="#30ee30" stroke-width="1.7"/>
<text x="135.7" y="151.6" font-size="9.8" textLength="5.45" lengthAdjust="spacingAndGlyphs">σ</text>
<text x="141.36" y="153.6" font-size="6.6" textLength="9.54" lengthAdjust="spacingAndGlyphs" class="t">a,el</text>
<text x="150.76" y="151.6" font-size="8.9" textLength="43.56" lengthAdjust="spacingAndGlyphs">=225.89·ΔR</text>
<text x="194.24" y="153.5" font-size="6.6" textLength="10.63" lengthAdjust="spacingAndGlyphs" class="s">corr</text>
<text x="205.25" y="147.6" font-size="5.5" textLength="14.31" lengthAdjust="spacingAndGlyphs" class="s">0.040</text>
<line x1="109" y1="164.0" x2="132.7" y2="164.0" stroke="#4040f2" stroke-width="1.7"/>
<text x="135.7" y="167" font-size="9.8" textLength="5.45" lengthAdjust="spacingAndGlyphs">σ</text>
<text x="141.46" y="169.4" font-size="6.6" textLength="23.64" lengthAdjust="spacingAndGlyphs" class="t">a,CAT,el</text>
<text x="165.26" y="167" font-size="8.9" textLength="34.45" lengthAdjust="spacingAndGlyphs">=5.75·ΔR</text>
<text x="199.63" y="169.3" font-size="6.6" textLength="10.84" lengthAdjust="spacingAndGlyphs" class="s">corr</text>
<text x="210.68" y="163.9" font-size="5.5" textLength="13.68" lengthAdjust="spacingAndGlyphs" class="s">1.061</text>
<line x1="109" y1="179.8" x2="132.7" y2="179.8" stroke="#f44444" stroke-width="1.7"/>
<text x="135.7" y="182.8" font-size="9.8" textLength="5.45" lengthAdjust="spacingAndGlyphs">σ</text>
<text x="141.45" y="185.2" font-size="6.6" textLength="32.06" lengthAdjust="spacingAndGlyphs" class="t">a,CAT,total</text>
<text x="173.56" y="182.8" font-size="8.9" textLength="43.04" lengthAdjust="spacingAndGlyphs">=113.01·ΔR</text>
<text x="216.54" y="185.2" font-size="6.6" textLength="10.53" lengthAdjust="spacingAndGlyphs" class="s">corr</text>
<text x="227.24" y="179.4" font-size="5.5" textLength="14.72" lengthAdjust="spacingAndGlyphs" class="s">0.205</text>
<line x1="397.2" y1="131.5" x2="421.5" y2="131.5" stroke="#1a1a1a" stroke-width="1.7"/>
<text x="423.7" y="134.5" font-size="9.8" textLength="5.45" lengthAdjust="spacingAndGlyphs">σ</text>
<text x="429.86" y="137" font-size="6.6" textLength="10.16" lengthAdjust="spacingAndGlyphs" class="t">a,pl</text>
<text x="439.85" y="134.5" font-size="8.9" textLength="44.67" lengthAdjust="spacingAndGlyphs">=253.08·ΔR</text>
<text x="484.42" y="136.8" font-size="6.6" textLength="11.15" lengthAdjust="spacingAndGlyphs" class="s">corr</text>
<text x="495.36" y="130.9" font-size="5.5" textLength="13.5" lengthAdjust="spacingAndGlyphs" class="s">0.011</text>
<line x1="397.2" y1="147.3" x2="421.5" y2="147.3" stroke="#30ee30" stroke-width="1.7"/>
<text x="423.7" y="150.5" font-size="9.8" textLength="5.45" lengthAdjust="spacingAndGlyphs">σ</text>
<text x="429.88" y="153" font-size="6.6" textLength="9.02" lengthAdjust="spacingAndGlyphs" class="t">a,el</text>
<text x="439.06" y="150.5" font-size="8.9" textLength="43.86" lengthAdjust="spacingAndGlyphs">=232.55·ΔR</text>
<text x="482.81" y="153" font-size="6.6" textLength="11.66" lengthAdjust="spacingAndGlyphs" class="s">corr</text>
<text x="494.45" y="146.9" font-size="5.5" textLength="13.79" lengthAdjust="spacingAndGlyphs" class="s">0.065</text>
<line x1="397.2" y1="163.3" x2="421.5" y2="163.3" stroke="#4040f2" stroke-width="1.7"/>
<text x="423.7" y="166.4" font-size="9.8" textLength="5.45" lengthAdjust="spacingAndGlyphs">σ</text>
<text x="429.86" y="169" font-size="6.6" textLength="24.35" lengthAdjust="spacingAndGlyphs" class="t">a,CAT,el</text>
<text x="454.06" y="166.4" font-size="8.9" textLength="39.46" lengthAdjust="spacingAndGlyphs">=93.37·ΔR</text>
<text x="493.41" y="169" font-size="6.6" textLength="11.56" lengthAdjust="spacingAndGlyphs" class="s">corr</text>
<text x="504.58" y="163.2" font-size="5.5" textLength="13.66" lengthAdjust="spacingAndGlyphs" class="s">1.025</text>
<line x1="397.2" y1="179.8" x2="421.5" y2="179.8" stroke="#f44444" stroke-width="1.7"/>
<text x="423.7" y="182.8" font-size="9.8" textLength="5.45" lengthAdjust="spacingAndGlyphs">σ</text>
<text x="429.45" y="185.2" font-size="6.6" textLength="32.57" lengthAdjust="spacingAndGlyphs" class="t">a,CAT,total</text>
<text x="461.75" y="182.8" font-size="8.9" textLength="44.47" lengthAdjust="spacingAndGlyphs">=175.62·ΔR</text>
<text x="506.14" y="185" font-size="6.6" textLength="10.42" lengthAdjust="spacingAndGlyphs" class="s">corr</text>
<text x="516.85" y="179.2" font-size="5.5" textLength="14.04" lengthAdjust="spacingAndGlyphs" class="s">0.326</text>
</svg>
</body></html>
